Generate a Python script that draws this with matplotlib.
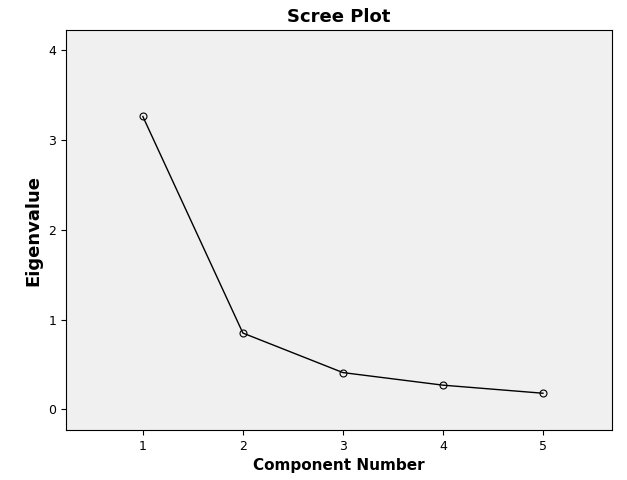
import matplotlib
matplotlib.use("Agg")
import matplotlib.pyplot as plt

components = [1, 2, 3, 4, 5]
eigenvalues = [3.26, 0.85, 0.41, 0.27, 0.18]

fig = plt.figure(figsize=(6.27, 4.8), dpi=100)
ax = fig.add_axes([0.105, 0.104, 0.871, 0.833])
ax.set_facecolor("#f0f0f0")
ax.plot(components, eigenvalues, color="black", lw=1, marker="o", ms=5,
        mfc="none", mec="black", mew=0.8)
ax.set_xlim(0.23, 5.69)
ax.set_ylim(-0.23, 4.22)
ax.set_xticks(components)
ax.set_yticks([0, 1, 2, 3, 4])
ax.tick_params(labelsize=9)
ax.set_xlabel("Component Number", fontsize=11, fontweight="bold")
ax.set_ylabel("Eigenvalue", fontsize=13, fontweight="bold")
ax.set_title("Scree Plot", fontsize=13, fontweight="bold", pad=6)
fig.savefig("out.png", dpi=100)
